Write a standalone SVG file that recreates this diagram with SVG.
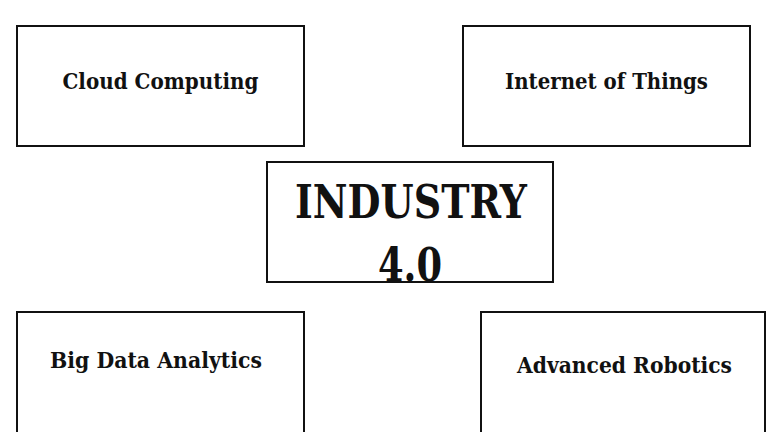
<svg xmlns="http://www.w3.org/2000/svg" width="768" height="432" viewBox="0 0 768 432">
  <style>
    .box { fill: #ffffff; stroke: #111111; stroke-width: 2; }
    .lbl { font-family: "DejaVu Serif", "Liberation Serif", serif; font-weight: bold; fill: #111111; text-anchor: middle; }
    .small { font-size: 23px; }
    .big { font-size: 46px; }
  </style>
  <rect x="0" y="0" width="768" height="432" fill="#ffffff"/>
  <g id="connectors"></g>
  <g id="cloud-computing">
    <rect class="box" x="17" y="26" width="287" height="120"/>
    <text class="lbl small" x="160.5" y="89" textLength="196" lengthAdjust="spacingAndGlyphs">Cloud Computing</text>
  </g>
  <g id="internet-of-things">
    <rect class="box" x="463" y="26" width="287" height="120"/>
    <text class="lbl small" x="606.5" y="89" textLength="203" lengthAdjust="spacingAndGlyphs">Internet of Things</text>
  </g>
  <g id="industry">
    <rect class="box" x="267" y="162" width="286" height="120"/>
    <text class="lbl big" x="411" y="218" textLength="232" lengthAdjust="spacingAndGlyphs">INDUSTRY</text>
    <text class="lbl big" x="410" y="281" textLength="64" lengthAdjust="spacingAndGlyphs">4.0</text>
  </g>
  <g id="big-data-analytics">
    <rect class="box" x="17" y="312" width="287" height="124"/>
    <text class="lbl small" x="156" y="368" textLength="212" lengthAdjust="spacingAndGlyphs">Big Data Analytics</text>
  </g>
  <g id="advanced-robotics">
    <rect class="box" x="481" y="312" width="284" height="124"/>
    <text class="lbl small" x="624.5" y="373" textLength="215" lengthAdjust="spacingAndGlyphs">Advanced Robotics</text>
  </g>
</svg>
